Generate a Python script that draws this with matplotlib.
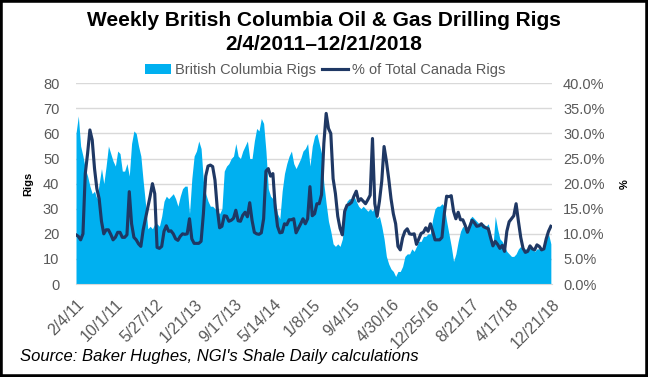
import numpy as np
import pandas as pd
import matplotlib
matplotlib.use("Agg")
import matplotlib.pyplot as plt
from matplotlib.patches import Rectangle
from matplotlib.ticker import FuncFormatter

plt.rcParams['font.family'] = ['Liberation Sans', 'DejaVu Sans']

# bi-weekly samples, starting 2/4/2011
start = pd.Timestamp('2011-02-04')
end = pd.Timestamp('2018-12-21')
week_step = 2

bc_rigs = [
    60, 67, 55, 51, 46, 43, 39, 36, 37, 34, 40, 46, 40, 47, 55, 52, 49, 47, 53, 52,
    45, 45, 48, 43, 56, 61, 60, 55, 51, 41, 32, 22, 23, 22, 24, 24, 23, 27, 33, 35,
    34, 35, 36, 34, 31, 35, 38, 39, 39, 28, 42, 51, 53, 57, 54, 41, 36, 33, 31, 31,
    30, 29, 28, 30, 45, 47, 48, 50, 51, 56, 51, 50, 53, 55, 57, 50, 50, 57, 62, 61,
    66, 64, 53, 38, 35, 34, 33, 28, 26, 37, 44, 48, 51, 53, 48, 46, 48, 50, 53, 54,
    56, 47, 55, 59, 60, 56, 52, 40, 32, 25, 21, 16, 15, 16, 15, 18, 29, 33, 34, 34,
    35, 33, 31, 30, 31, 30, 29, 30, 29, 31, 26, 27, 23, 18, 11, 8, 6, 5, 3, 5,
    5, 7, 11, 12, 12, 14, 13, 15, 17, 17, 19, 19, 20, 20, 26, 30, 31, 31, 32, 31,
    25, 20, 15, 9, 12, 17, 21, 23, 22, 20, 26, 27, 26, 25, 24, 24, 24, 23, 24, 20,
    15, 27, 22, 18, 17, 15, 13, 12, 11, 11, 12, 14, 15, 13, 14, 14, 15, 14, 13, 14,
    14, 14, 15, 18, 20, 16,
]

pct_canada = [
    9.8, 9.5, 8.8, 10, 22, 26, 30.7, 28.7, 23, 19, 17, 12.5, 10, 10.8, 10.8, 9.9, 8.8, 9.3, 10.3, 10.3,
    9.3, 9.3, 9.8, 18.4, 12, 9.3, 8.8, 8, 7.5, 10.8, 13, 15.2, 17.5, 20, 18, 7.3, 7.1, 7.5, 10.5, 11.6,
    10.5, 10.6, 10, 9, 8.7, 9.5, 10, 9.9, 10, 13, 9, 8.1, 8.1, 8.1, 8.5, 14, 21.5, 23.5, 23.7, 23.4,
    20.7, 15, 11.2, 11.5, 13.6, 13.5, 12.5, 12.7, 13.1, 14.7, 12.6, 12.5, 13.7, 14.3, 13.4, 16.2, 12.7, 10.3, 10, 9.9,
    10.2, 13, 22.5, 23, 21.5, 22, 15.4, 11.5, 10.2, 10.3, 12, 11.8, 12.8, 12.8, 13, 10.2, 11.1, 12, 13, 12,
    13, 19.4, 13.6, 14, 16, 16, 17.8, 28, 34, 31, 30, 21, 18, 13.5, 11.1, 9.8, 14.5, 15.7, 15.9, 16.3,
    17.5, 18.5, 16.5, 17, 16.5, 16, 16.8, 17.7, 29, 16, 13.5, 16.5, 20.5, 27.4, 24.5, 21, 17, 14, 12, 7.5,
    6.8, 9.2, 10.5, 11, 10, 9.9, 10, 7.9, 9, 10.1, 10.3, 11.2, 10.5, 12, 10.5, 8.8, 8.8, 8.8, 9.3, 14,
    17.5, 17.4, 17.6, 14.5, 13, 14.3, 12.8, 12.8, 11.7, 10.3, 11.5, 12.7, 12.2, 11.5, 11.6, 12, 11.4, 11.2, 11, 9.2,
    7.6, 8.5, 7.9, 7.1, 7.7, 6.5, 10.5, 12.4, 13, 13.6, 16, 12.5, 9.3, 7.1, 6.3, 6.5, 7.6, 7, 6.8, 7.8,
    7.5, 6.8, 7, 9, 10.5, 11.5,
]

tick_labels = ['2/4/11', '10/1/11', '5/27/12', '1/21/13', '9/17/13', '5/14/14', '1/8/15',
               '9/4/15', '4/30/16', '12/25/16', '8/21/17', '4/17/18', '12/21/18']

dates = start + pd.to_timedelta(np.arange(len(bc_rigs)) * week_step * 7, unit='D')
tick_dates = pd.to_datetime(tick_labels, format='%m/%d/%y')

area_color = '#00B0F0'
line_color = '#1F3864'
text_gray = '#595959'
grid_gray = '#D9D9D9'

fig = plt.figure(figsize=(6.48, 3.77), dpi=100)
ax = fig.add_axes([76 / 648, 1 - 284 / 377, (552 - 76) / 648, (284 - 83.3) / 377])

ax.fill_between(dates, bc_rigs, color=area_color, lw=0, label='British Columbia Rigs')
ax.set_ylim(0, 80)
ax.set_yticks(range(0, 81, 10))
ax.set_xlim(start, end)
ax.set_axisbelow(True)
ax.grid(axis='y', color=grid_gray, lw=1)
for s in ['top', 'left', 'right']:
    ax.spines[s].set_visible(False)
ax.spines['bottom'].set_color(grid_gray)
ax.tick_params(axis='both', length=0, labelsize=10.5, labelcolor=text_gray)
ax.tick_params(axis='y', pad=12)
ax.set_xticks(tick_dates)
ax.set_xticklabels(tick_labels, rotation=45, ha='right', rotation_mode='anchor', fontsize=11.5)
ax.tick_params(axis='x', pad=9)
ax.set_ylabel('Rigs', fontsize=8, fontweight='bold', labelpad=7)

ax2 = ax.twinx()
ax2.plot(dates, pct_canada, color=line_color, lw=2.25, label='% of Total Canada Rigs')
ax2.set_ylim(0, 40)
ax2.set_yticks(range(0, 41, 5))
ax2.yaxis.set_major_formatter(FuncFormatter(lambda v, p: f'{v:.1f}%'))
for s in ax2.spines.values():
    s.set_visible(False)
ax2.tick_params(axis='y', length=0, labelsize=10.5, labelcolor=text_gray, pad=8)
ax2.set_ylabel('%', fontsize=8, fontweight='bold', labelpad=11)

h1, l1 = ax.get_legend_handles_labels()
h2, l2 = ax2.get_legend_handles_labels()
fig.legend(h1 + h2, l1 + l2, loc='center', bbox_to_anchor=(325 / 648, 1 - 70 / 377), ncol=2,
           frameon=False, fontsize=10.5, labelcolor=text_gray, handlelength=1.8,
           handletextpad=0.25, columnspacing=0.4, handleheight=0.7)

fig.text(0.5, 1 - 20 / 377, 'Weekly British Columbia Oil & Gas Drilling Rigs',
         ha='center', va='center', fontsize=15, fontweight='bold')
fig.text(0.5, 1 - 45 / 377, '2/4/2011\u201312/21/2018',
         ha='center', va='center', fontsize=15, fontweight='bold')
fig.text(20 / 648, 1 - 357 / 377, "Source: Baker Hughes, NGI's Shale Daily calculations",
         ha='left', va='center', fontsize=12, style='italic')

fig.patches.append(Rectangle((0, 0), 1, 1, transform=fig.transFigure, fill=False,
                             ec='black', lw=4))

fig.savefig('out.png', dpi=100)
